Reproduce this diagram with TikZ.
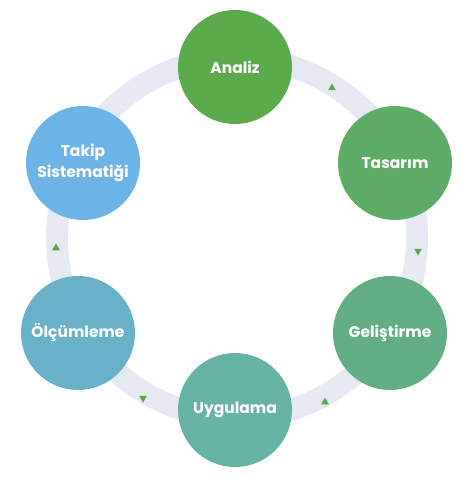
\documentclass[tikz,border=0pt]{standalone}
\usepackage{fontspec}
\setmainfont{Poppins}
\usetikzlibrary{shapes.geometric}

\definecolor{ringgray}{HTML}{E6E9F2}
\definecolor{arrowgreen}{HTML}{5AA84A}
\definecolor{analizcol}{HTML}{5BAA4C}
\definecolor{tasarimcol}{HTML}{5EAC66}
\definecolor{gelistirmecol}{HTML}{62AE84}
\definecolor{uygulamacol}{HTML}{66B3A6}
\definecolor{olcumcol}{HTML}{68B1C8}
\definecolor{takipcol}{HTML}{6DB4E6}

\tikzset{
    stage/.style={circle, minimum size=114pt, inner sep=0pt, text=white, font=\fontsize{15.5}{20.5}\selectfont\bfseries, align=center},
    tipup/.style={regular polygon, regular polygon sides=3, fill=arrowgreen, minimum size=9pt, inner sep=0pt},
    tipdown/.style={tipup, shape border rotate=180}
}

\begin{document}
\begin{tikzpicture}[x=1pt, y=-1pt]
        \useasboundingbox (0,0) rectangle (474,478);

        % ring behind the stages
        \draw[line width=22pt, ringgray] (237,238) circle[radius=180];

        \node[stage, fill=analizcol] (analiz) at (235,67) {Analiz};
        \node[stage, fill=tasarimcol] (tasarim) at (395,163) {Tasarım};
        \node[stage, fill=gelistirmecol] (gelistirme) at (390,333) {Geliştirme};
        \node[stage, fill=uygulamacol] (uygulama) at (235,410) {Uygulama};
        \node[stage, fill=olcumcol] (olcum) at (78,333) {Ölçümleme};
        \node[stage, fill=takipcol] (takip) at (83,163) {Takip\\Sistematiği};

        % small tips on the ring
        \node[tipup] (tip1) at (332,88) {};
        \node[tipdown] (tip2) at (418,251) {};
        \node[tipup] (tip3) at (325,402) {};
        \node[tipdown] (tip4) at (143,398) {};
        \node[tipup] (tip5) at (56,248) {};
    \end{tikzpicture}
\end{document}
